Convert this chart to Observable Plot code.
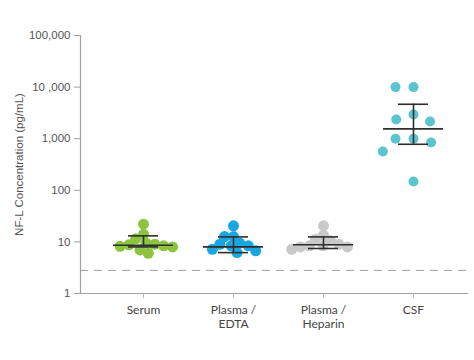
<!DOCTYPE html>
<html>
<head>
<meta charset="utf-8">
<script src="https://cdn.jsdelivr.net/npm/d3@7"></script>
<script src="https://cdn.jsdelivr.net/npm/@observablehq/plot@0.6"></script>
<style>
  html, body { margin: 0; padding: 0; background: #fff; }
  #chart { position: relative; width: 474px; height: 360px; }
  #chart svg { position: absolute; left: 0; top: 0; }
</style>
</head>
<body>
<div id="chart"></div>
<script>
const categories = ["Serum", "Plasma / EDTA", "Plasma / Heparin", "CSF"];
const xTickLabels = ["Serum", "Plasma /\nEDTA", "Plasma /\nHeparin", "CSF"];

const serumValues   = [22, 14, 11.5, 9.5, 9, 8.8, 8.4, 8.2, 8, 7, 6];
const edtaValues    = [20.5, 12.7, 12.7, 9.5, 9.0, 8.4, 8.4, 7.2, 6.7, 6.2];
const heparinValues = [20.5, 13.5, 11.3, 10.5, 9, 8.4, 8.4, 8.0, 8.0, 7.2];
const csfValues     = [10000, 10000, 2950, 2350, 2150, 1000, 1000, 845, 565, 148];

const centerValues = [8.6, 8.0, 8.8, 1550];
const upperValues  = [13.1, 12.5, 12.5, 4650];
const lowerValues  = [8.0, 6.2, 7.45, 780];

const lloq = 2.8;

const yTicks = [1, 10, 100, 1000, 10000, 100000];
const yTickLabels = ["1", "10", "100", "1,000", "10 ,000", "100,000"];
const yLabel = "NF-L Concentration (pg/mL)";

const seriesValues = [serumValues, edtaValues, heparinValues, csfValues];
const rows = categories.flatMap((c, i) => seriesValues[i].map(v => ({category: c, value: v})));
const lowRows = rows.filter(d => d.category !== "CSF");
const csfRows = rows.filter(d => d.category === "CSF");
const stats = categories.map((c, i) => ({category: c, center: centerValues[i], upper: upperValues[i], lower: lowerValues[i]}));

const common = {
  width: 474,
  height: 360,
  marginTop: 35,
  marginBottom: 67,
  marginLeft: 80,
  marginRight: 7,
  style: {fontFamily: "'Liberation Sans', Arial, sans-serif", fontSize: "11px", color: "#555", background: "transparent"}
};
const yScale = {type: "log", domain: [1, 100000], axis: null};
const barStyle = {stroke: "#2e2e2e", strokeWidth: 1.6};

// Base layer: axes, baseline and dashed limit line
const baseLayer = Plot.plot({
  ...common,
  y: yScale,
  marks: [
    Plot.ruleY([lloq], {stroke: "#a0a0a0", strokeWidth: 1, strokeDasharray: "8,6"}),
    Plot.frame({anchor: "bottom", stroke: "#a0a0a0", strokeWidth: 1.2}),
    Plot.frame({anchor: "left", stroke: "#a0a0a0", strokeWidth: 1.2}),
    Plot.axisY(yTicks, {
      anchor: "left",
      tickSize: 6,
      tickPadding: 4,
      stroke: "#a0a0a0",
      fill: "#555",
      fontSize: 11.5,
      tickFormat: d => yTickLabels[yTicks.indexOf(d)],
      label: yLabel,
      labelAnchor: "center",
      labelArrow: "none",
      labelOffset: 66
    })
  ]
});

// Top layer: faceted dot swarms, error bars and category axis
const dotLayer = Plot.plot({
  ...common,
  fx: {domain: categories, paddingInner: 0, paddingOuter: 0.15, align: 0.656, label: null, axis: null},
  y: yScale,
  color: {domain: categories, range: ["#8cc43f", "#1aa7e1", "#c9c9c9", "#5bc4ce"]},
  marks: [
    Plot.dot(lowRows, Plot.dodgeX({anchor: "middle", padding: -2}, {fx: "category", y: "value", r: 5.5, fill: "category"})),
    Plot.dot(csfRows, Plot.dodgeX({anchor: "middle", padding: 8}, {fx: "category", y: "value", r: 5, fill: "category"})),
    Plot.tickY(stats, {fx: "category", y: "center", insetLeft: 15, insetRight: 15, ...barStyle}),
    Plot.tickY(stats, {fx: "category", y: "upper", insetLeft: 30, insetRight: 30, ...barStyle}),
    Plot.tickY(stats, {fx: "category", y: "lower", insetLeft: 30, insetRight: 30, ...barStyle}),
    Plot.ruleX(stats, {fx: "category", x: null, y1: "lower", y2: "upper", ...barStyle}),
    Plot.axisFx({
      anchor: "bottom",
      tickSize: 5,
      tickPadding: 6,
      stroke: "#bbb",
      fill: "#444",
      fontSize: 12,
      fontFamily: "Lato, sans-serif",
      lineHeight: 1.15,
      label: null,
      tickFormat: d => xTickLabels[categories.indexOf(d)]
    })
  ]
});

const holder = document.getElementById("chart");
holder.appendChild(baseLayer);
holder.appendChild(dotLayer);
</script>
</body>
</html>
